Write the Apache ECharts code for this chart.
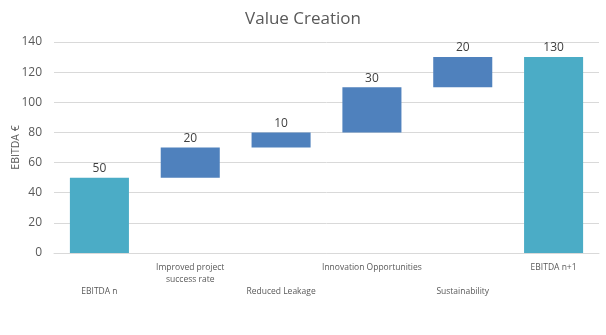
<!DOCTYPE html>
<html><head><meta charset="utf-8">
<script src="https://cdn.jsdelivr.net/npm/echarts@6/dist/echarts.min.js"></script>
<style>html,body{margin:0;padding:0;background:#fff}#c{width:606px;height:335px}</style>
</head><body><div id="c"></div>
<script>
var categories = ['EBITDA n', 'Improved project\nsuccess rate', 'Reduced Leakage', 'Innovation Opportunities', 'Sustainability', 'EBITDA n+1'];
var amounts = [50, 20, 10, 30, 20, 130];
var isTotal = [true, false, false, false, false, true];
var yTicks = [0, 20, 40, 60, 80, 100, 120, 140];

var base = [], running = 0;
for (var i = 0; i < amounts.length; i++) {
  if (isTotal[i]) { base.push(0); running = amounts[i]; }
  else { base.push(running); running += amounts[i]; }
}
var visible = amounts.map(function (v, i) {
  return { value: v, itemStyle: { color: isTotal[i] ? '#4BACC6' : '#4F81BD' } };
});

var chart = echarts.init(document.getElementById('c'));
chart.setOption({
  animation: false,
  title: { text: 'Value Creation', left: 'center', top: 6,
    textStyle: { fontFamily: 'Open Sans', fontSize: 17, fontWeight: 'normal', color: '#595959' } },
  grid: { left: 54, right: 7, top: 42, bottom: 82, containLabel: false, outerBoundsMode: 'none' },
  xAxis: {
    type: 'category', data: categories,
    axisTick: { show: false },
    axisLine: { lineStyle: { color: '#d9d9d9' } },
    axisLabel: {
      interval: 0, margin: 9, color: '#595959', fontFamily: 'Open Sans', fontSize: 8.5, lineHeight: 12,
      formatter: function (v, idx) { return idx % 2 === 0 ? '\n\n' + v : v; }
    }
  },
  yAxis: {
    type: 'value', min: yTicks[0], max: yTicks[yTicks.length - 1], interval: 20,
    name: 'EBITDA €', nameLocation: 'middle', nameGap: 32, nameMoveOverlap: false,
    nameTextStyle: { color: '#595959', fontFamily: 'Open Sans', fontSize: 10.5 },
    axisLine: { show: false }, axisTick: { show: false },
    axisLabel: { color: '#595959', fontFamily: 'Open Sans', fontSize: 12, margin: 12 },
    splitLine: { lineStyle: { color: '#d9d9d9' } }
  },
  series: [
    { type: 'bar', stack: 'w', data: base, barWidth: '65%', itemStyle: { color: 'transparent' }, silent: true },
    { type: 'bar', stack: 'w', data: visible, barWidth: '65%',
      label: { show: true, position: 'top', color: '#404040', fontFamily: 'Open Sans', fontSize: 12, distance: 3 } }
  ]
});
</script></body></html>
